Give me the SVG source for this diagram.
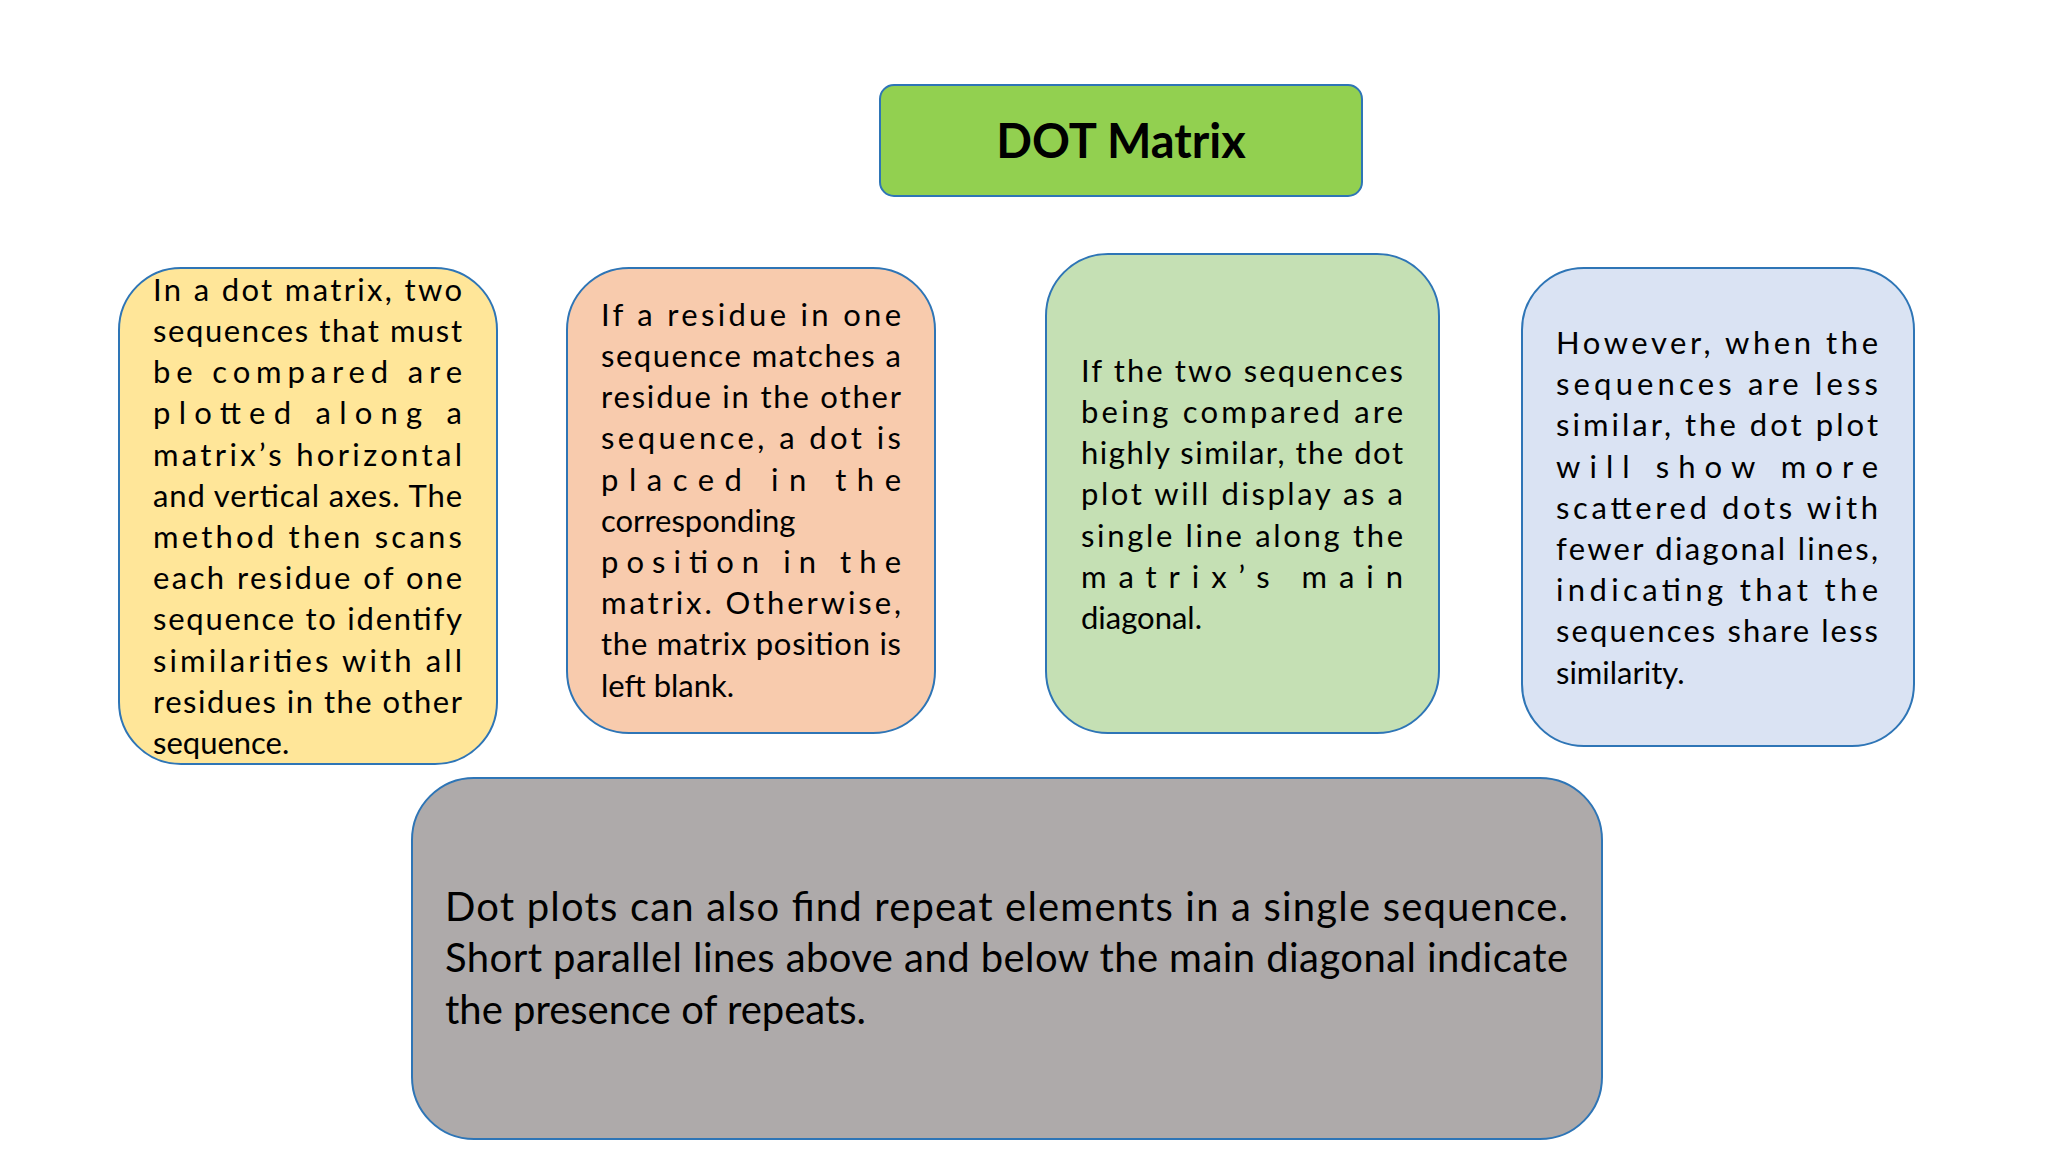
<svg xmlns="http://www.w3.org/2000/svg" width="2048" height="1152" viewBox="0 0 2048 1152">
<style>
rect{stroke:#2e75b6;stroke-width:2}
text{font-family:Lato,"Open Sans",sans-serif;font-size:31px;fill:#000}
.j{lengthAdjust:spacing}
</style>
<rect width="2048" height="1152" fill="#fff" style="stroke:none"/>
<g id="title"><rect x="880" y="85" width="482" height="111" rx="14" fill="#92d050"/>
<text x="1121" y="158" text-anchor="middle" style="font-size:47px;font-weight:bold">DOT Matrix</text></g>
<g id="box1"><rect x="119" y="268" width="378" height="496" rx="62" fill="#ffe699"/>
<text x="153" y="301" textLength="309" lengthAdjust="spacing">In a dot matrix, two</text>
<text x="153" y="342" textLength="309" lengthAdjust="spacing">sequences that must</text>
<text x="153" y="383" textLength="309" lengthAdjust="spacing">be compared are</text>
<text x="153" y="424" textLength="309" lengthAdjust="spacing">plotted along a</text>
<text x="153" y="466" textLength="309" lengthAdjust="spacing">matrix’s horizontal</text>
<text x="153" y="507" textLength="309" lengthAdjust="spacing">and vertical axes. The</text>
<text x="153" y="548" textLength="309" lengthAdjust="spacing">method then scans</text>
<text x="153" y="589" textLength="309" lengthAdjust="spacing">each residue of one</text>
<text x="153" y="630" textLength="309" lengthAdjust="spacing">sequence to identify</text>
<text x="153" y="672" textLength="309" lengthAdjust="spacing">similarities with all</text>
<text x="153" y="713" textLength="309" lengthAdjust="spacing">residues in the other</text>
<text x="153" y="754">sequence.</text></g>
<g id="box2"><rect x="567" y="268" width="368" height="465" rx="62" fill="#f8cbad"/>
<text x="601" y="326" textLength="300" lengthAdjust="spacing">If a residue in one</text>
<text x="601" y="367" textLength="300" lengthAdjust="spacing">sequence matches a</text>
<text x="601" y="408" textLength="300" lengthAdjust="spacing">residue in the other</text>
<text x="601" y="449" textLength="300" lengthAdjust="spacing">sequence, a dot is</text>
<text x="601" y="491" textLength="300" lengthAdjust="spacing">placed in the</text>
<text x="601" y="532">corresponding</text>
<text x="601" y="573" textLength="300" lengthAdjust="spacing">position in the</text>
<text x="601" y="614" textLength="300" lengthAdjust="spacing">matrix. Otherwise,</text>
<text x="601" y="655" textLength="300" lengthAdjust="spacing">the matrix position is</text>
<text x="601" y="697">left blank.</text></g>
<g id="box3"><rect x="1046" y="254" width="393" height="479" rx="62" fill="#c5e0b4"/>
<text x="1081" y="382" textLength="322" lengthAdjust="spacing">If the two sequences</text>
<text x="1081" y="423" textLength="322" lengthAdjust="spacing">being compared are</text>
<text x="1081" y="464" textLength="322" lengthAdjust="spacing">highly similar, the dot</text>
<text x="1081" y="505" textLength="322" lengthAdjust="spacing">plot will display as a</text>
<text x="1081" y="547" textLength="322" lengthAdjust="spacing">single line along the</text>
<text x="1081" y="588" textLength="322" lengthAdjust="spacing">matrix’s main</text>
<text x="1081" y="629">diagonal.</text></g>
<g id="box4"><rect x="1522" y="268" width="392" height="478" rx="62" fill="#dae3f3"/>
<text x="1556" y="354" textLength="322" lengthAdjust="spacing">However, when the</text>
<text x="1556" y="395" textLength="322" lengthAdjust="spacing">sequences are less</text>
<text x="1556" y="436" textLength="322" lengthAdjust="spacing">similar, the dot plot</text>
<text x="1556" y="478" textLength="322" lengthAdjust="spacing">will show more</text>
<text x="1556" y="519" textLength="322" lengthAdjust="spacing">scattered dots with</text>
<text x="1556" y="560" textLength="322" lengthAdjust="spacing">fewer diagonal lines,</text>
<text x="1556" y="601" textLength="322" lengthAdjust="spacing">indicating that the</text>
<text x="1556" y="642" textLength="322" lengthAdjust="spacing">sequences share less</text>
<text x="1556" y="684">similarity.</text></g>
<g id="box5"><rect x="412" y="778" width="1190" height="361" rx="62" fill="#aeaaaa"/>
<text x="445" y="921" textLength="1123" lengthAdjust="spacing" style="font-size:40px">Dot plots can also find repeat elements in a single sequence.</text>
<text x="445" y="972" textLength="1123" lengthAdjust="spacing" style="font-size:40px">Short parallel lines above and below the main diagonal indicate</text>
<text x="445" y="1024" style="font-size:40px">the presence of repeats.</text></g>
<g id="connectors"></g>
</svg>
